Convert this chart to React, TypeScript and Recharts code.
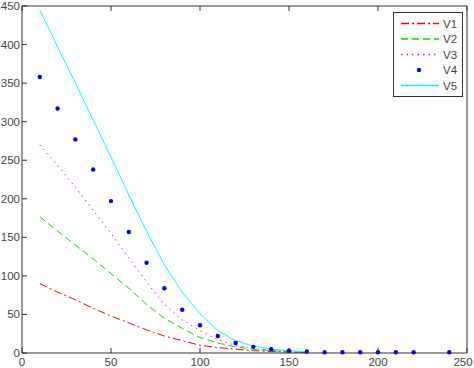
import { LineChart, Line, XAxis, YAxis } from 'recharts';

const xs = [10, 20, 30, 40, 50, 60, 70, 80, 90, 100, 110, 120, 130, 140, 150, 160, 170, 180, 190, 200, 210, 220, 230, 240];
const v1 = [90, 79, 69, 58, 48, 39, 30, 22, 16, 10, 7, 5, 3, 2, 1, 0.5, null, null, null, null, null, null, null, null];
const v2 = [177, 158, 140, 122, 103, 84, 63, 45, 32, 20, 13, 8, 5, 3, 1.5, 0.5, null, null, null, null, null, null, null, null];
const v3 = [270, 243, 215, 185, 155, 123, 92, 63, 43, 29, 17, 10, 6, 3, 2, 1, null, null, null, null, null, null, null, null];
const v4 = [358, 317, 277, 238, 197, 157, 117, 84, 56, 36, 22, 13, 8, 5, 3, 2, 1, 1, 1, 1, 1, 1, null, 1];
const v5 = [445, 397, 350, 302, 254, 205, 158, 114, 79, 51, 29, 16, 9, 5, 3, 1.5, null, null, null, null, null, null, null, null];

const xTicks = [0, 50, 100, 150, 200, 250];
const yTicks = [0, 50, 100, 150, 200, 250, 300, 350, 400, 450];

const data = xs.map((x, i) => ({ x, v1: v1[i], v2: v2[i], v3: v3[i], v4: v4[i], v5: v5[i] }));

const axisColor = '#333';
const font = '"Liberation Sans", Arial, sans-serif';
const chartW = 474;

const series = [
  { key: 'v1', name: 'V1', color: '#ff0000', dash: '8 3 2 3' },
  { key: 'v2', name: 'V2', color: '#00dd00', dash: '7 4' },
  { key: 'v3', name: 'V3', color: '#ff00ff', dash: '1.5 4' },
  { key: 'v5', name: 'V5', color: '#00ffff', dash: undefined },
];

const BottomTick = (p: any) => {
  // keep the last label inside the picture
  const lx = Math.min(p.x, chartW - 11);
  return (
    <g>
      <line x1={p.x} y1={p.y} x2={p.x} y2={p.y - 5} stroke={axisColor} />
      <text x={lx} y={p.y + 13} textAnchor="middle" fontSize={11.5} fill="#444" fontFamily={font}>
        {p.payload.value}
      </text>
    </g>
  );
};

const TopTick = (p: any) => <line x1={p.x} y1={p.y} x2={p.x} y2={p.y + 5} stroke={axisColor} />;

const LeftTick = (p: any) => (
  <g>
    <line x1={p.x} y1={p.y} x2={p.x + 5} y2={p.y} stroke={axisColor} />
    <text x={p.x - 2} y={p.y + 4} textAnchor="end" fontSize={11.5} fill="#444" fontFamily={font}>
      {p.payload.value}
    </text>
  </g>
);

const RightTick = (p: any) => <line x1={p.x} y1={p.y} x2={p.x - 5} y2={p.y} stroke={axisColor} />;

const V4Dot = (p: any) => {
  if (p.value == null || p.cy == null) return <g key={p.index} />;
  return <circle key={p.index} cx={p.cx} cy={p.cy} r={2.2} fill="#0000ff" />;
};

function LegendBox() {
  const rows = [
    { name: 'V1', color: '#ff0000', dash: '8 3 2 3', dot: false },
    { name: 'V2', color: '#00dd00', dash: '7 4', dot: false },
    { name: 'V3', color: '#ff00ff', dash: '1.5 4', dot: false },
    { name: 'V4', color: '#0000ff', dash: undefined, dot: true },
    { name: 'V5', color: '#00ffff', dash: undefined, dot: false },
  ];
  return (
    <div
      style={{
        position: 'absolute', left: 393, top: 12, width: 68, height: 83,
        border: '1px solid #333', background: '#fff', fontFamily: font, fontSize: 11, color: '#444',
      }}
    >
      <svg width={68} height={83} style={{ display: 'block' }}>
        {rows.map((r, i) => {
          const y = 10.5 + i * 15.5;
          return (
            <g key={r.name}>
              {r.dot ? (
                <circle cx={25} cy={y} r={2.2} fill={r.color} />
              ) : (
                <line x1={7} y1={y} x2={45} y2={y} stroke={r.color} strokeWidth={1.5} strokeDasharray={r.dash} />
              )}
              <text x={49} y={y + 4} fontSize={11.5} fill="#444" fontFamily={font}>{r.name}</text>
            </g>
          );
        })}
      </svg>
    </div>
  );
}

export default function App() {
  return (
    <div style={{ position: 'absolute', left: 0, top: 0, width: chartW, height: 368, background: '#fff', overflow: 'hidden' }}>
      <LineChart width={chartW} height={368} data={data} margin={{ top: 5, right: 6, bottom: 0, left: 0 }}>
        <XAxis
          xAxisId="b" type="number" dataKey="x" domain={[0, 250]} ticks={xTicks} height={15}
          tickSize={0} tickMargin={0} tickLine={false} stroke={axisColor} tick={BottomTick}
          allowDataOverflow interval={0}
        />
        <XAxis
          xAxisId="t" orientation="top" type="number" dataKey="x" domain={[0, 250]} ticks={xTicks} height={1}
          tickSize={0} tickMargin={0} tickLine={false} stroke={axisColor} tick={TopTick} interval={0}
        />
        <YAxis
          yAxisId="l" type="number" domain={[0, 450]} ticks={yTicks} width={22}
          tickSize={0} tickMargin={0} tickLine={false} stroke={axisColor} tick={LeftTick} interval={0}
        />
        <YAxis
          yAxisId="r" orientation="right" type="number" domain={[0, 450]} ticks={yTicks} width={1}
          tickSize={0} tickMargin={0} tickLine={false} stroke={axisColor} tick={RightTick} interval={0}
        />
        {series.map((s) => (
          <Line
            key={s.key} xAxisId="b" yAxisId="l" type="linear" dataKey={s.key} name={s.name}
            stroke={s.color} strokeWidth={1} strokeDasharray={s.dash} dot={false}
            isAnimationActive={false}
          />
        ))}
        <Line
          xAxisId="b" yAxisId="l" type="linear" dataKey="v4" name="V4" stroke="none"
          dot={V4Dot} activeDot={false} isAnimationActive={false}
        />
      </LineChart>
      <LegendBox />
    </div>
  );
}
